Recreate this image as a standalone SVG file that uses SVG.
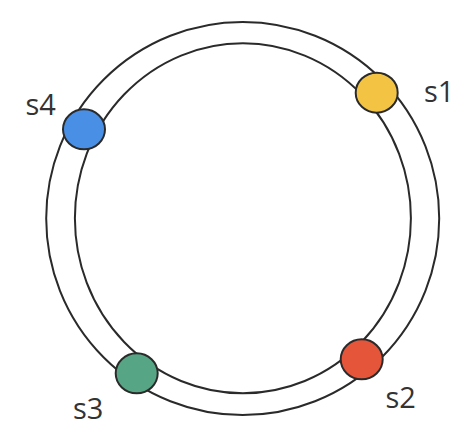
<svg xmlns="http://www.w3.org/2000/svg" width="474" height="447" viewBox="0 0 474 447">
<style>
.ring{fill:none;stroke:#2a2a2a;stroke-width:2}
.node{stroke:#2a2a2a;stroke-width:2}
.lbl{font-family:"Open Sans","Noto Sans",sans-serif;font-size:29px;fill:#333}
</style>
<rect width="474" height="447" fill="#fff"/>
<g id="connectors">
<circle class="ring" cx="242.7" cy="218.5" r="196.5"/>
<ellipse class="ring" cx="242.9" cy="218.3" rx="168" ry="175"/>
</g>
<g id="s1"><ellipse class="node" cx="376.7" cy="92.7" rx="21" ry="20" fill="#F3C443"/><text class="lbl" x="424" y="102">s1</text></g>
<g id="s2"><ellipse class="node" cx="361.7" cy="359.3" rx="21" ry="20" fill="#E4553A"/><text class="lbl" x="385.5" y="407.5">s2</text></g>
<g id="s3"><ellipse class="node" cx="136.7" cy="373.3" rx="21" ry="20" fill="#56A585"/><text class="lbl" x="73" y="418.5">s3</text></g>
<g id="s4"><ellipse class="node" cx="84" cy="129.3" rx="21" ry="20" fill="#4A8FE6"/><text class="lbl" x="25.5" y="115">s4</text></g>
</svg>
